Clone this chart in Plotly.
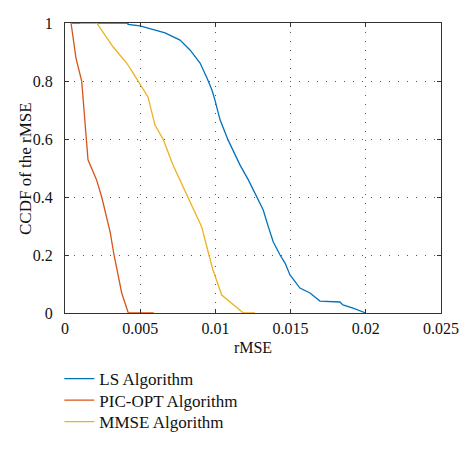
import plotly.graph_objects as go

# LS Algorithm CCDF points (rMSE, CCDF)
ls_x = [0.00047, 0.00419, 0.00419, 0.00499, 0.00665, 0.00765, 0.00831, 0.00898, 0.00944,
        0.00977, 0.00997, 0.01031, 0.01084, 0.01164, 0.01219, 0.01275, 0.01318, 0.01352,
        0.01385, 0.0143, 0.01463, 0.01496, 0.01562, 0.01629, 0.01695, 0.01828, 0.01848,
        0.01915, 0.01961, 0.0200]
ls_y = [1.0, 1.0, 0.995, 0.99, 0.966, 0.941, 0.907, 0.862, 0.81,
        0.769, 0.734, 0.666, 0.597, 0.51, 0.459, 0.4, 0.355, 0.297,
        0.245, 0.2, 0.172, 0.131, 0.086, 0.069, 0.041, 0.038, 0.028,
        0.017, 0.007, 0.0]

# PIC-OPT Algorithm
pic_x = [0.0004, 0.00073, 0.00111, 0.00126, 0.0014, 0.00153, 0.0021, 0.00244, 0.003,
         0.00326, 0.00377, 0.00421, 0.0059]
pic_y = [1.0, 0.879, 0.8, 0.70, 0.6, 0.528, 0.459, 0.4, 0.28,
         0.2, 0.069, 0.0, 0.0]

# MMSE Algorithm
mmse_x = [0.001, 0.00211, 0.00319, 0.0041, 0.00452, 0.00485, 0.00552, 0.00598, 0.00652,
          0.00718, 0.00818, 0.00909, 0.00957, 0.00984, 0.01042, 0.01186, 0.01263]
mmse_y = [1.0, 1.0, 0.918, 0.862, 0.828, 0.8, 0.745, 0.648, 0.6,
          0.51, 0.4, 0.297, 0.2, 0.148, 0.062, 0.0, 0.0]

names = ["LS Algorithm", "PIC-OPT Algorithm", "MMSE Algorithm"]
colors = ["#0072BD", "#D95319", "#EDB120"]
legend_ids = ["legend", "legend2", "legend3"]
legend_y = [-0.228, -0.302, -0.376]
y_title = "CCDF of the rMSE"

font_family = "Liberation Serif"
text_color = "#111111"

fig = go.Figure()
for x, y, n, c, lg in [(ls_x, ls_y, names[0], colors[0], legend_ids[0]),
                       (pic_x, pic_y, names[1], colors[1], legend_ids[1]),
                       (mmse_x, mmse_y, names[2], colors[2], legend_ids[2])]:
    fig.add_trace(go.Scatter(x=x, y=y, mode="lines", name=n, legend=lg,
                             line=dict(color=c, width=1.3)))

axis_common = dict(
    showline=True, linecolor="#333333", linewidth=1.2, mirror="ticks",
    ticks="inside", ticklen=4, tickcolor="#333333",
    showgrid=True, gridcolor="#555555", gridwidth=1, griddash="1px,8px",
    zeroline=False, automargin=False,
    tickfont=dict(family=font_family, size=16, color=text_color),
)

fig.update_xaxes(range=[0, 0.025], tickvals=[0, 0.005, 0.01, 0.015, 0.02, 0.025],
                 ticktext=["0", "0.005", "0.01", "0.015", "0.02", "0.025"],
                 ticklabelstandoff=1,
                 title=dict(text="rMSE", font=dict(family=font_family, size=16, color=text_color),
                            standoff=5),
                 **axis_common)
fig.update_yaxes(range=[0, 1], tickvals=[0, 0.2, 0.4, 0.6, 0.8, 1],
                 ticktext=["0", "0.2", "0.4", "0.6", "0.8", "1"],
                 ticklabelstandoff=8,
                 **axis_common)

fig.add_annotation(text=y_title, textangle=-90, xref="paper", yref="paper",
                   x=-0.1064, y=0.5, xanchor="center", yanchor="middle", showarrow=False,
                   font=dict(family=font_family, size=17, color=text_color))

legend_style = dict(orientation="v", x=-0.015, xanchor="left", yanchor="middle",
                    font=dict(family=font_family, size=17, color=text_color),
                    bgcolor="rgba(0,0,0,0)", itemwidth=30)

fig.update_layout(
    width=474, height=449,
    margin=dict(l=65, r=33, t=23, b=136, autoexpand=False),
    paper_bgcolor="white", plot_bgcolor="white",
    showlegend=True,
    legend=dict(y=legend_y[0], **legend_style),
    legend2=dict(y=legend_y[1], **legend_style),
    legend3=dict(y=legend_y[2], **legend_style),
)

fig.write_html("out.html")
